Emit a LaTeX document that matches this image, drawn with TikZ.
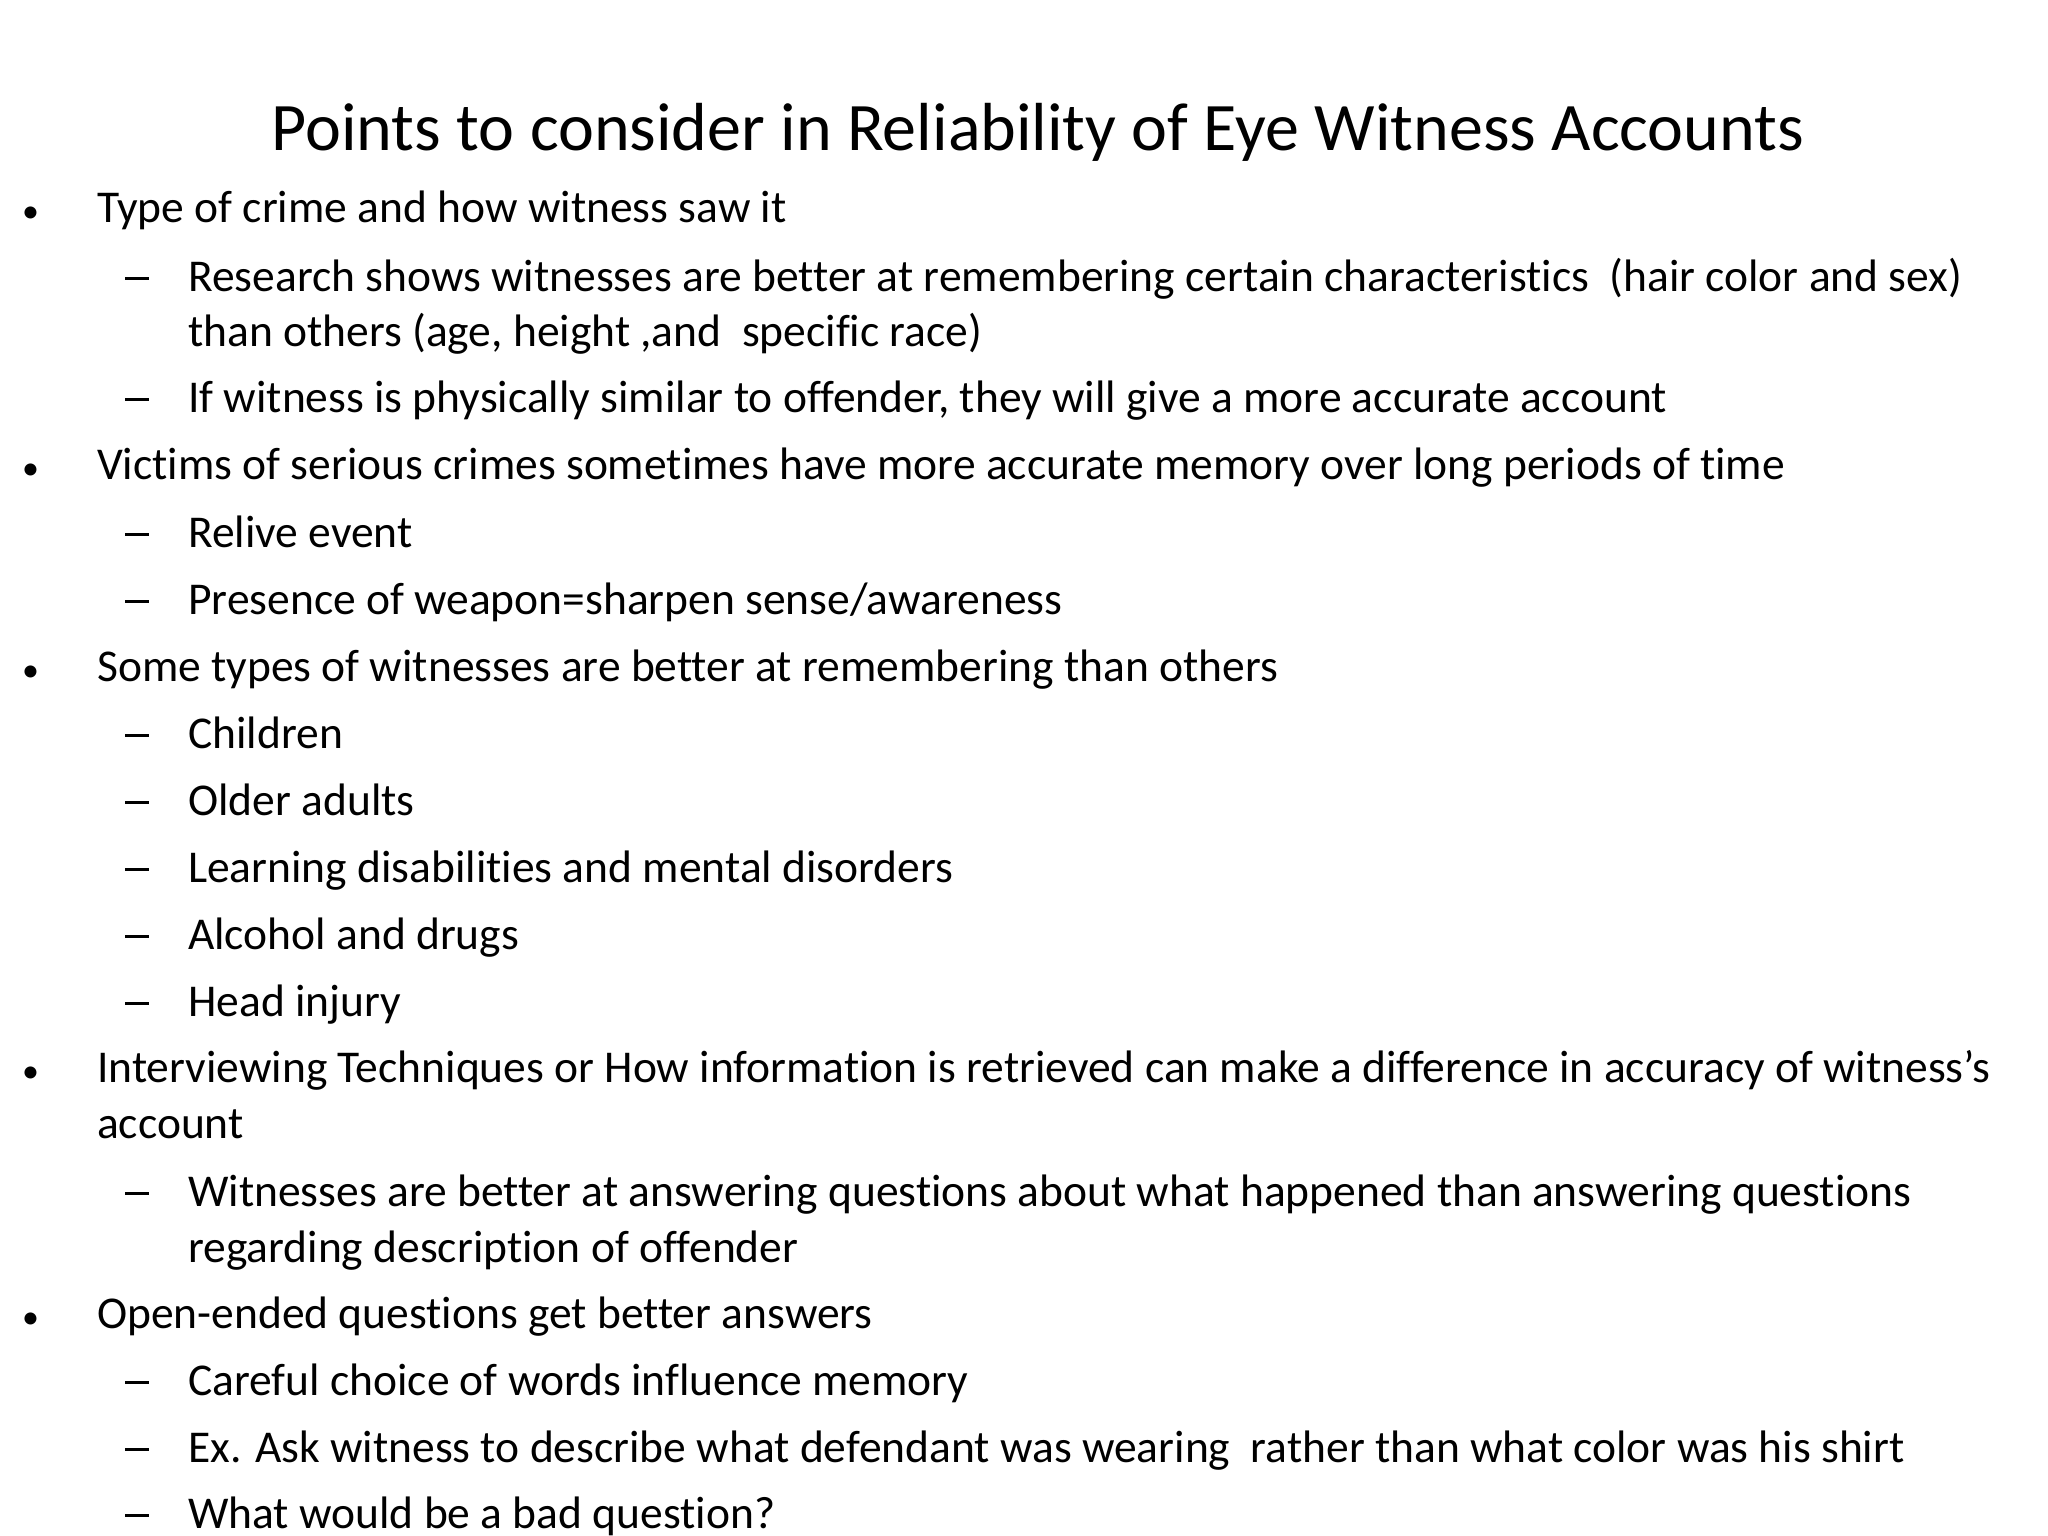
\documentclass[tikz,border=0pt]{standalone}
\usepackage{fontspec}
\setmainfont{Carlito}[Ligatures=NoCommon]
\begin{document}
\begin{tikzpicture}[x=1pt,y=-1pt,
  txt/.style={anchor=base west,inner sep=0pt,font=\fontsize{45.5}{54}\selectfont},
  bul/.style={anchor=base west,inner sep=0pt,font=\fontsize{34}{40}\selectfont},
  ttl/.style={anchor=base,inner sep=0pt,font=\fontsize{68}{78}\selectfont}]
\clip (0,0) rectangle (2048,1536);
\fill[white] (0,0) rectangle (2048,1536);
\node[ttl] (t) at (1038,150) {Points to consider in Reliability of Eye Witness Accounts};
\def\B#1#2#3{\node[bul] (b#1) at (22,#2) {\textbullet}; \node[txt] (bt#1) at (97,#2) {#3};}
\def\D#1#2#3{\node[anchor=west,inner sep=0pt,fill=black,minimum width=24pt,minimum height=3pt] (d#1) at (125,#2-13) {}; \node[txt] (dt#1) at (188,#2) {#3};}
\def\C#1#2#3{\node[txt] (c#1) at (188,#2) {#3};}
\B{1}{222}{Type of crime and how witness saw it}
\D{1}{291}{Research shows witnesses are better at remembering certain characteristics\ \ (hair color and sex)}
\C{1}{346}{than others (age, height ,and\ \ specific race)}
\D{2}{412}{If witness is physically similar to offender, they will give a more accurate account}
\B{2}{479}{Victims of serious crimes sometimes have more accurate memory over long periods of time}
\D{3}{547}{Relive event}
\D{4}{614}{Presence of weapon=sharpen sense/awareness}
\B{3}{681}{Some types of witnesses are better at remembering than others}
\D{5}{748}{Children}
\D{6}{815}{Older adults}
\D{7}{882}{Learning disabilities and mental disorders}
\D{8}{949}{Alcohol and drugs}
\D{9}{1016}{Head injury}
\B{4}{1082}{Interviewing Techniques or How information is retrieved can make a difference in accuracy of witness’s}
\node[txt] (c2) at (97,1138) {account};
\D{10}{1206}{Witnesses are better at answering questions about what happened than answering questions}
\C{3}{1262}{regarding description of offender}
\B{5}{1328}{Open-ended questions get better answers}
\D{11}{1395}{Careful choice of words influence memory}
\D{12}{1462}{Ex. Ask witness to describe what defendant was wearing\ \ rather than what color was his shirt}
\D{13}{1528}{What would be a bad question?}
\end{tikzpicture}
\end{document}
